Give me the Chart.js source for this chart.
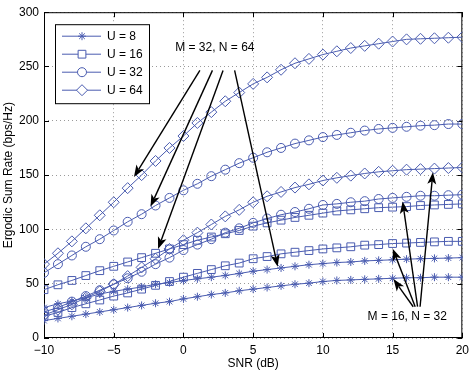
<!DOCTYPE html>
<html>
<head>
<meta charset="utf-8">
<script src="https://cdn.jsdelivr.net/npm/chart.js@4.4.0/dist/chart.umd.min.js"></script>
<style>
  html, body { margin: 0; padding: 0; background: #fff; }
</style>
</head>
<body>
<canvas id="myChart" width="474" height="374"></canvas>
<script>
// SNR (dB) points on the x axis
const snr = [-10, -9, -8, -7, -6, -5, -4, -3, -2, -1, 0, 1, 2, 3, 4, 5, 6, 7, 8, 9, 10,
    11, 12, 13, 14, 15, 16, 17, 18, 19, 20];

// M = 32, N = 64
const m32u8 = [28, 31.5, 34, 37, 40.5, 43, 45, 47, 49.5, 51, 53, 54.5, 56, 57.6, 59.4, 61.5,
    63, 64.5, 66, 67.5, 68.5, 69.5, 70, 71, 71.5, 72, 72.6, 73, 73.3, 73.6, 74];
const m32u16 = [44.5, 49, 53, 57.5, 62, 66, 70, 74, 78, 82, 86, 90, 93, 96, 99, 103, 106,
    108.5, 111, 113, 115, 117, 118, 119, 120, 120.5, 121, 122, 122.5, 123, 123.5];
const m32u32 = [60, 68, 76, 84, 91, 99, 107, 114, 122, 129, 136, 142, 149, 155, 161, 166,
    171, 175, 179, 182, 185, 187, 189, 191, 192.5, 193.5, 194.5, 195.5, 196, 197, 197];
const m32u64 = [68, 78, 89, 101, 113, 125, 138, 150, 163, 175, 186, 198, 208, 218, 226, 234,
    240, 247, 253, 257, 261, 264, 267, 269, 271, 273, 275, 275.5, 276, 276.5, 277];

// M = 16, N = 32
const m16u8 = [16, 18, 20, 22, 24, 26, 28, 30, 32, 33.5, 36, 38, 40, 41.5, 43.5, 45, 46.5,
    48, 49.5, 50.5, 52, 53, 53.5, 54, 54.5, 55, 55.5, 55.5, 56, 56, 56];
const m16u16 = [20, 23.5, 28, 31.5, 35, 38.6, 41.5, 45, 48.5, 52, 56, 59.5, 63, 66.5, 69, 73,
    75, 77.5, 79, 80.5, 82, 83, 84, 85.5, 86, 87, 87.4, 88, 88.5, 89, 89];
const m16u32 = [24, 28, 33.5, 38.6, 44, 49.5, 55, 61, 68, 74, 81, 86, 91, 97, 101, 106, 110,
    113.5, 116, 119, 122.5, 123.5, 125, 126, 128, 129, 130, 131, 131, 131.5, 132];
const m16u64 = [21, 26, 31, 37, 43, 49.5, 57, 65, 73, 82, 90, 97, 104.5, 112, 118, 125, 130.5,
    134.5, 138.5, 141.5, 145, 147.5, 149.5, 151.5, 153, 154, 155, 155.5, 156, 156.5, 157];

const legendLabels = ["U = 8", "U = 16", "U = 32", "U = 64"];
const xTicks = [-10, -5, 0, 5, 10, 15, 20];
const yTicks = [0, 50, 100, 150, 200, 250, 300];

// annotation text + arrows, in data units (SNR, rate)
const noteM32 = {
    text: "M = 32, N = 64", at: [2.25, 267],
    from: [[1.18, 246.4], [2.08, 246.4], [2.84, 246.4], [3.67, 246.4]],
    to: [[-3.55, 148.2], [-2.36, 121], [-1.82, 82], [6.76, 65.7]]
};
const noteM16 = {
    text: "M = 16, N = 32", at: [16.05, 19.5],
    from: [[16.48, 28.8], [16.62, 28.8], [16.79, 28.8], [16.97, 28.8]],
    to: [[15.06, 54.3], [15.01, 82.2], [15.72, 125.7], [17.89, 152.7]]
};

const blue = "#4a5cb0";
const styles = ["star", "rect", "circle", "rectRot"];
const radii = [4, 5.5, 4.5, 5.5];

let series = [
    [m32u8, 0], [m32u16, 1], [m32u32, 2], [m32u64, 3],
    [m16u8, 0], [m16u16, 1], [m16u32, 2], [m16u64, 3]
];

let datasets = series.map(([vals, u]) => ({
    label: legendLabels[u],
    data: vals.map((v, i) => ({ x: snr[i], y: v })),
    borderColor: blue,
    backgroundColor: "rgba(0,0,0,0)",
    borderWidth: 1,
    pointStyle: styles[u],
    pointRadius: radii[u],
    pointBorderColor: blue,
    pointBackgroundColor: "rgba(0,0,0,0)",
    pointBorderWidth: 1,
    tension: 0
}));

const font = "12px 'Liberation Sans', Arial, sans-serif";

let drawArrow = (ctx, x0, y0, x1, y1) => {
    let ang = Math.atan2(y1 - y0, x1 - x0);
    let len = 12, half = 4.5;
    let bx = x1 - Math.cos(ang) * len, by = y1 - Math.sin(ang) * len;
    let nx = bx + Math.cos(ang) * 3, ny = by + Math.sin(ang) * 3;
    ctx.beginPath();
    ctx.moveTo(x0, y0);
    ctx.lineTo(nx, ny);
    ctx.stroke();
    let px = -Math.sin(ang), py = Math.cos(ang);
    ctx.beginPath();
    ctx.moveTo(x1, y1);
    ctx.lineTo(bx + px * half, by + py * half);
    ctx.lineTo(nx, ny);
    ctx.lineTo(bx - px * half, by - py * half);
    ctx.closePath();
    ctx.fill();
};

let drawMarker = (ctx, style, r, x, y) => {
    if (Chart.helpers && Chart.helpers.drawPoint) {
        Chart.helpers.drawPoint(ctx, { pointStyle: style, radius: r, rotation: 0, borderWidth: 1 }, x, y);
    }
};

const extras = {
    id: "extras",
    beforeDatasetsDraw(chart) {
        const { ctx, chartArea: a } = chart;
        // full box
        ctx.save();
        ctx.strokeStyle = "#000";
        ctx.lineWidth = 1;
        ctx.strokeRect(a.left + 0.5, a.top + 0.5, a.right - a.left - 1, a.bottom - a.top - 1);
        // inward tick marks
        const xs = chart.scales.x, ys = chart.scales.y;
        ctx.beginPath();
        xTicks.forEach(t => {
            let px = Math.round(xs.getPixelForValue(t)) + 0.5;
            ctx.moveTo(px, a.bottom); ctx.lineTo(px, a.bottom - 5);
            ctx.moveTo(px, a.top); ctx.lineTo(px, a.top + 5);
        });
        yTicks.forEach(t => {
            let py = Math.round(ys.getPixelForValue(t)) + 0.5;
            ctx.moveTo(a.left, py); ctx.lineTo(a.left + 5, py);
            ctx.moveTo(a.right, py); ctx.lineTo(a.right - 5, py);
        });
        ctx.stroke();
        ctx.restore();
    },
    afterDatasetsDraw(chart) {
        const { ctx, chartArea: a } = chart;
        const xs = chart.scales.x, ys = chart.scales.y;
        ctx.save();

        // arrows and notes
        ctx.strokeStyle = "#000";
        ctx.fillStyle = "#000";
        ctx.lineWidth = 1.4;
        [noteM32, noteM16].forEach(n => {
            n.from.forEach((f, i) => {
                let t = n.to[i];
                drawArrow(ctx, xs.getPixelForValue(f[0]), ys.getPixelForValue(f[1]),
                    xs.getPixelForValue(t[0]), ys.getPixelForValue(t[1]));
            });
            ctx.font = font;
            ctx.textAlign = "center";
            ctx.textBaseline = "middle";
            ctx.fillText(n.text, xs.getPixelForValue(n.at[0]), ys.getPixelForValue(n.at[1]));
        });

        // legend box
        let lx = a.left + 11, ly = a.top + 12, lw = 94, lh = 79;
        ctx.fillStyle = "#fff";
        ctx.fillRect(lx, ly, lw, lh);
        ctx.strokeStyle = "#000";
        ctx.lineWidth = 1;
        ctx.strokeRect(lx + 0.5, ly + 0.5, lw, lh);
        legendLabels.forEach((lab, i) => {
            let yy = ly + 12 + i * 18;
            ctx.strokeStyle = blue;
            ctx.lineWidth = 1;
            ctx.beginPath();
            ctx.moveTo(lx + 7, yy);
            ctx.lineTo(lx + 46, yy);
            ctx.stroke();
            ctx.fillStyle = "#fff";
            drawMarker(ctx, styles[i], radii[i], lx + 27, yy);
            ctx.fillStyle = "#000";
            ctx.font = font;
            ctx.textAlign = "left";
            ctx.textBaseline = "middle";
            ctx.fillText(lab, lx + 52, yy + 0.5);
        });
        ctx.restore();
    }
};

const ctx = document.getElementById("myChart");

let myChart = new Chart(ctx, {
    type: "line",
    data: { datasets: datasets },
    options: {
        responsive: false,
        animation: false,
        events: [],
        layout: { padding: { top: 5, right: 7, left: 0, bottom: 0 } },
        plugins: {
            legend: { display: false },
            tooltip: { enabled: false }
        },
        scales: {
            x: {
                type: "linear",
                min: -10,
                max: 20,
                afterFit: (s) => { s.height = 36; },
                afterBuildTicks: (s) => { s.ticks = xTicks.map(v => ({ value: v })); },
                ticks: {
                    color: "#000",
                    padding: 5,
                    font: { family: "'Liberation Sans', Arial, sans-serif", size: 12 },
                    callback: (v) => String(v).replace("-", "\u2212")
                },
                grid: { color: "#9a9a9a", lineWidth: 1, drawTicks: false },
                border: { display: false, dash: [1, 3] },
                title: {
                    display: true,
                    text: "SNR (dB)",
                    color: "#000",
                    padding: { top: 0, bottom: 3 },
                    font: { family: "'Liberation Sans', Arial, sans-serif", size: 12 }
                }
            },
            y: {
                type: "linear",
                min: 0,
                max: 300,
                afterFit: (s) => { s.width = 44; },
                afterBuildTicks: (s) => { s.ticks = yTicks.map(v => ({ value: v })); },
                ticks: {
                    color: "#000",
                    padding: 5,
                    font: { family: "'Liberation Sans', Arial, sans-serif", size: 12 }
                },
                grid: { color: "#9a9a9a", lineWidth: 1, drawTicks: false },
                border: { display: false, dash: [1, 3] },
                title: {
                    display: true,
                    text: "Ergodic Sum Rate (bps/Hz)",
                    color: "#000",
                    padding: { top: 1, bottom: 0 },
                    font: { family: "'Liberation Sans', Arial, sans-serif", size: 12 }
                }
            }
        }
    },
    plugins: [extras]
});
</script>
</body>
</html>
